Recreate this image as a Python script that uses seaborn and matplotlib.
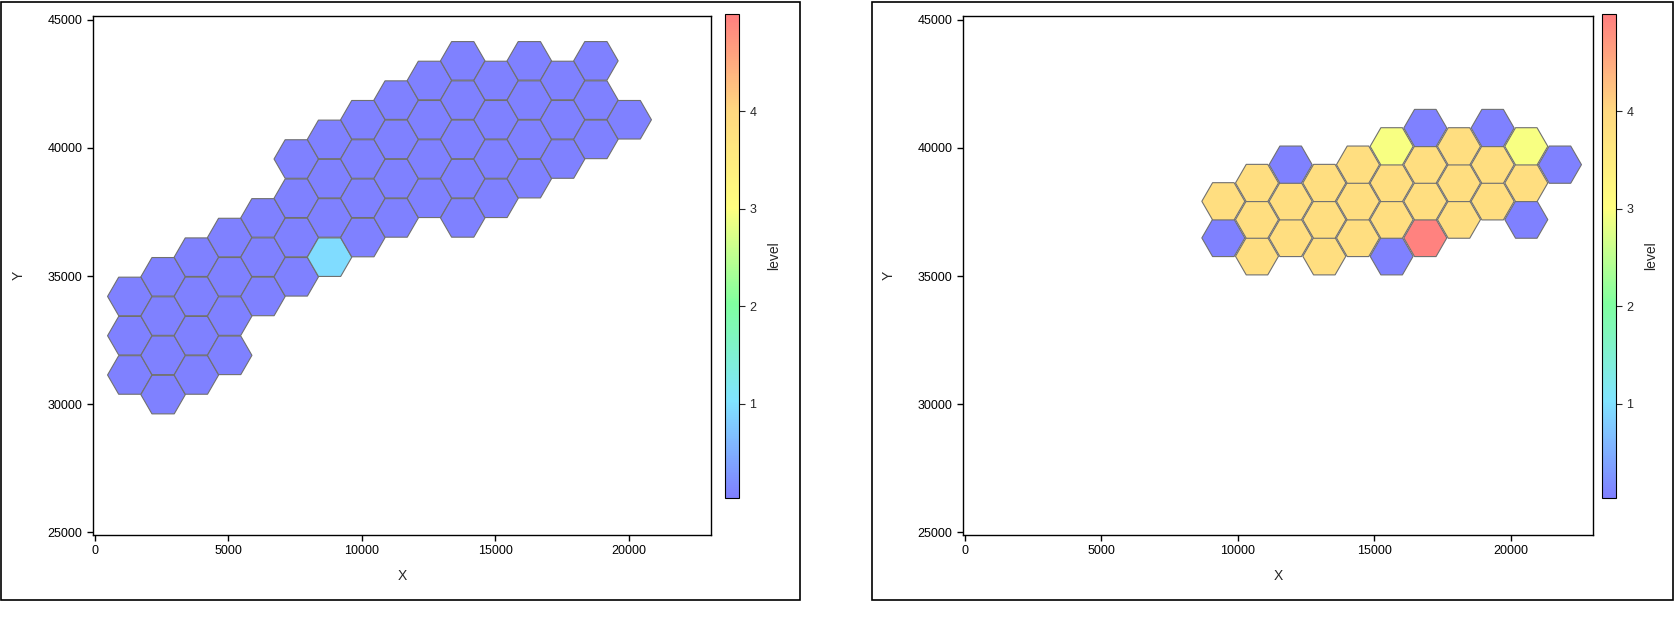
import numpy as np
import matplotlib
matplotlib.use("Agg")
import matplotlib.pyplot as plt
import seaborn as sns
import pandas as pd
from matplotlib.colors import LinearSegmentedColormap, Normalize
from matplotlib.patches import Rectangle
from matplotlib.cm import ScalarMappable

sns.set_style("white")
plt.rcParams['font.family'] = ['Liberation Sans', 'DejaVu Sans']

# ---- data: hex bin indices (column, row) and level ----
left_col = [0,0,0, 1,1,1,1, 2,2,2,2, 3,3,3,3, 4,4,4, 5,5,5,5, 6,6,6,6,
            7,7,7,7, 8,8,8,8, 9,9,9,9, 10,10,10,10,10, 11,11,11,11,
            12,12,12,12, 13,13,13, 14,14,14, 15]
left_row = [0,1,2, 0,1,2,3, 0,1,2,3, 1,2,3,4, 2,3,4, 3,4,5,6, 3,4,5,6,
            4,5,6,7, 4,5,6,7, 5,6,7,8, 4,5,6,7,8, 5,6,7,8,
            5,6,7,8, 6,7,8, 6,7,8, 7]
left_level = [0.05]*len(left_col)
left_level[22] = 0.95   # light-blue cell (col 6, row 3)

B, Y, LY, R = 0.05, 3.85, 2.95, 4.95
right_col = [0,0, 1,1,1, 2,2,2, 3,3,3, 4,4,4, 5,5,5,5, 6,6,6,6, 7,7,7, 8,8,8, 9,9,9, 10]
right_row = [0,1, 0,1,2, 0,1,2, 0,1,2, 0,1,2, 0,1,2,3, 0,1,2,3, 1,2,3, 1,2,3, 1,2,3, 2]
right_level = [B,Y, Y,Y,Y, Y,Y,B, Y,Y,Y, Y,Y,Y, B,Y,Y,LY, R,Y,Y,B, Y,Y,Y, Y,Y,B, B,Y,LY, B]

# hex bin geometry per panel: x origin, column step, y origin, row step
left_grid = dict(x0=1318, dx=1246.6, y0=31144, dy=1532)
right_grid = dict(x0=9480, dx=1233, y0=36490, dy=1430)

cbar_ticks = [1, 2, 3, 4]
vmin, vmax = 0.03, 5.0

cmap = LinearSegmentedColormap.from_list(
    "lvl", [(0, "#7F7FFF"), (0.2, "#80E4FF"), (0.4, "#80FFA0"),
            (0.6, "#FFFF80"), (0.8, "#FFD880"), (1.0, "#FF7F7F")])
norm = Normalize(vmin=vmin, vmax=vmax)


def centers(cols, rows, g):
    c = np.asarray(cols); r = np.asarray(rows)
    x = g["x0"] + c * g["dx"]
    y = g["y0"] + r * g["dy"] - (c % 2) * g["dy"] / 2
    return x, y


W, H = 1679, 623
fig = plt.figure(figsize=(W / 100, H / 100), dpi=100)

for (fx0, fx1) in [(1, 800), (872, 1673)]:
    fig.patches.append(Rectangle((fx0 / W, 1 - 600 / H), (fx1 - fx0) / W, 598 / H,
                                 transform=fig.transFigure, fill=False,
                                 edgecolor="black", linewidth=1.2))

panels = [
    (left_col, left_row, left_level, left_grid, 93, 711, 725, -60, 23080, 44.5),
    (right_col, right_row, right_level, right_grid, 963, 1593, 1602, -55, 23020, 43.0),
]
bot, top = 535, 16
for cols, rows, lev, g, ax0, ax1, cx0, xlo, xhi, msize in panels:
    ax = fig.add_axes([ax0 / W, 1 - bot / H, (ax1 - ax0) / W, (bot - top) / H])
    x, y = centers(cols, rows, g)
    df = pd.DataFrame({"X": x, "Y": y, "level": lev})
    sns.scatterplot(data=df, x="X", y="Y", hue="level", palette=cmap, hue_norm=norm,
                    marker="H", s=(msize * 0.72) ** 2, edgecolor="#707070",
                    linewidth=0.8, legend=False, ax=ax)
    ax.set_xlim(xlo, xhi)
    ax.set_ylim(24900, 45150)
    ax.set_xticks([0, 5000, 10000, 15000, 20000])
    ax.set_yticks([25000, 30000, 35000, 40000, 45000])
    for s in ax.spines.values():
        s.set_color("black"); s.set_linewidth(1.0)
    ax.tick_params(direction="out", length=4, width=1, labelsize=9, colors="black",
                   left=True, bottom=True)
    ax.set_xlabel("X", fontsize=10, labelpad=8)
    ax.set_ylabel("Y", fontsize=10, labelpad=16)

    cax = fig.add_axes([cx0 / W, 1 - 498 / H, 14 / W, (498 - 14) / H])
    sm = ScalarMappable(norm=norm, cmap=cmap)
    cb = fig.colorbar(sm, cax=cax, ticks=cbar_ticks)
    cb.outline.set_edgecolor("black")
    cb.ax.tick_params(labelsize=9, length=4, direction="out")
    cb.set_label("level", fontsize=10, labelpad=8)

fig.savefig("out.png", dpi=100)
